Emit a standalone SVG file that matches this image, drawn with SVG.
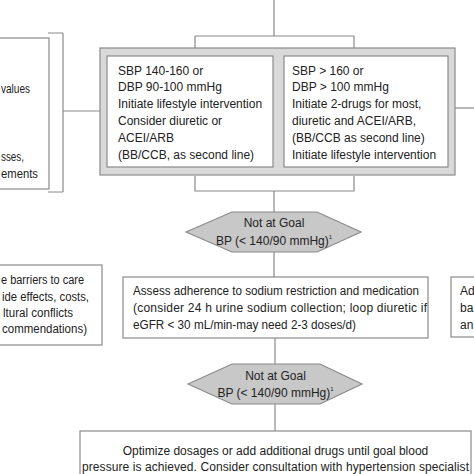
<svg xmlns="http://www.w3.org/2000/svg" width="474" height="474" viewBox="0 0 474 474">
<style>
  text { font-family: "Liberation Sans", Arial, sans-serif; font-size: 12px; fill: #222; }
  .box { fill: #fff; stroke: #8a8a8a; stroke-width: 1.2; }
  .outer { fill: #d9d9d9; stroke: #8a8a8a; stroke-width: 1.2; }
  .dec { fill: #c8c8c8; stroke: #8a8a8a; stroke-width: 1.2; }
  .ln { fill: none; stroke: #8a8a8a; stroke-width: 1.2; }
  .mid { text-anchor: middle; }
  .sup { font-size: 6px; }
</style>
<rect width="474" height="474" fill="#fff"/>
<g id="connectors">
  <path class="ln" d="M274 0V36M195 36H354M195 36V48M354 36V48"/>
  <path class="ln" d="M195 176V191H354V176M274 191V212"/>
  <path class="ln" d="M63 33V192M48 33H63M48 192H63M63 111H100"/>
  <path class="ln" d="M455 108H474"/>
  <path class="ln" d="M274 252V277"/>
  <path class="ln" d="M275 338V364"/>
  <path class="ln" d="M275 404V431"/>
</g>
<g id="node-left-top">
  <rect class="box" x="-10" y="38" width="59" height="151"/>
  <text x="1" y="93" textLength="29" lengthAdjust="spacingAndGlyphs">values</text>
  <text x="1" y="161" textLength="23" lengthAdjust="spacingAndGlyphs">sses,</text>
  <text x="1" y="178" textLength="37" lengthAdjust="spacingAndGlyphs">ements</text>
</g>
<g id="node-treatment">
  <rect class="outer" x="100" y="48" width="355" height="127"/>
  <g id="node-stage1">
    <rect class="box" x="107" y="56" width="166" height="111"/>
    <text x="118" y="74.5">SBP 140-160 or</text>
    <text x="118" y="91.3">DBP 90-100 mmHg</text>
    <text x="118" y="108.1">Initiate lifestyle intervention</text>
    <text x="118" y="124.9">Consider diuretic or</text>
    <text x="118" y="141.7">ACEI/ARB</text>
    <text x="118" y="158.5">(BB/CCB, as second line)</text>
  </g>
  <g id="node-stage2">
    <rect class="box" x="284" y="56" width="164" height="111"/>
    <text x="292" y="74.5">SBP &gt; 160 or</text>
    <text x="292" y="91.3">DBP &gt; 100 mmHg</text>
    <text x="292" y="108.1">Initiate 2-drugs for most,</text>
    <text x="292" y="124.9">diuretic and ACEI/ARB,</text>
    <text x="292" y="141.7">(BB/CCB as second line)</text>
    <text x="292" y="158.5">Initiate lifestyle intervention</text>
  </g>
</g>
<g id="node-goal1">
  <polygon class="dec" points="186,232 232,212 317,212 361,232 317,252 232,252"/>
  <text class="mid" x="274" y="227">Not at Goal</text>
  <text class="mid" x="274" y="245">BP (&lt; 140/90 mmHg)<tspan class="sup" dy="-6">1</tspan></text>
</g>
<g id="node-barriers">
  <rect class="box" x="-10" y="265" width="112" height="80"/>
  <text x="1" y="283.5" textLength="83" lengthAdjust="spacingAndGlyphs">e barriers to care</text>
  <text x="2" y="301" textLength="87" lengthAdjust="spacingAndGlyphs">ide effects, costs,</text>
  <text x="3" y="317" textLength="70" lengthAdjust="spacingAndGlyphs">ltural conflicts</text>
  <text x="2" y="333" textLength="85" lengthAdjust="spacingAndGlyphs">commendations)</text>
</g>
<g id="node-assess">
  <rect class="box" x="123" y="277" width="305" height="61"/>
  <text x="133" y="294.5" textLength="286" lengthAdjust="spacingAndGlyphs">Assess adherence to sodium restriction and medication</text>
  <text x="133" y="312" textLength="294" lengthAdjust="spacing">(consider 24 h urine sodium collection; loop diuretic if</text>
  <text x="133" y="329" textLength="223" lengthAdjust="spacingAndGlyphs">eGFR &lt; 30 mL/min-may need 2-3 doses/d)</text>
</g>
<g id="node-right">
  <rect class="box" x="451" y="277" width="40" height="60"/>
  <text x="460" y="294.5">Ad</text>
  <text x="460" y="312">ba</text>
  <text x="460" y="329">an</text>
</g>
<g id="node-goal2">
  <polygon class="dec" points="188,384 232,364 320,364 362,384 320,404 232,404"/>
  <text class="mid" x="275.5" y="380">Not at Goal</text>
  <text class="mid" x="275.5" y="397">BP (&lt; 140/90 mmHg)<tspan class="sup" dy="-6">1</tspan></text>
</g>
<g id="node-optimize">
  <rect class="box" x="80" y="431" width="391" height="60"/>
  <text class="mid" x="275.5" y="455">Optimize dosages or add additional drugs until goal blood</text>
  <text x="82" y="471" textLength="387" lengthAdjust="spacing">pressure is achieved. Consider consultation with hypertension specialist</text>
</g>
</svg>
